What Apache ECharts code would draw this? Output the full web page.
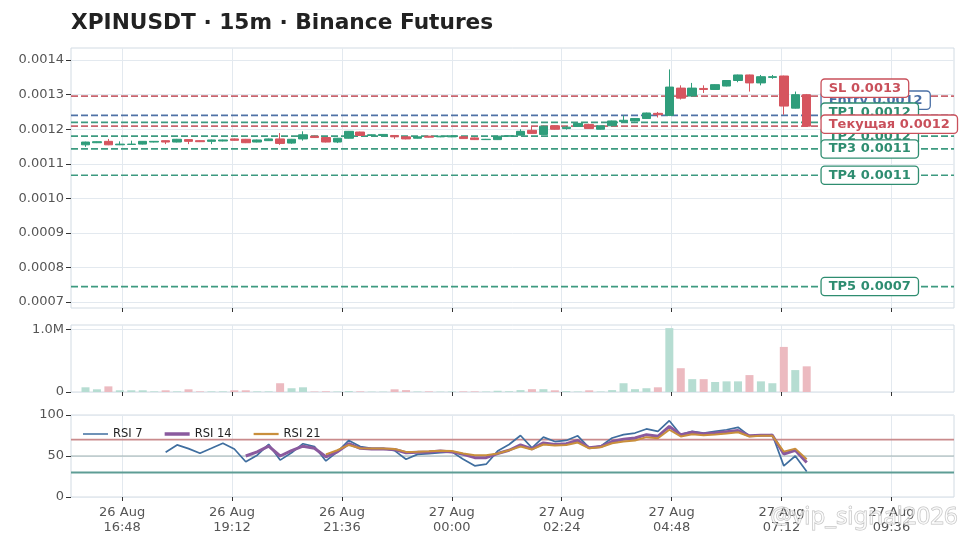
<!DOCTYPE html>
<html><head><meta charset="utf-8">
<script src="https://cdn.jsdelivr.net/npm/echarts@6/dist/echarts.min.js"></script>
<style>html,body{margin:0;padding:0;background:#fff}#c{width:971px;height:548px}</style>
</head><body><div id="c"></div>
<script>
// ---------- data ----------
const candleTimes = [
 '26 16:00','26 16:15','26 16:30','26 16:45','26 17:00','26 17:15','26 17:30','26 17:45',
 '26 18:00','26 18:15','26 18:30','26 18:45','26 19:00','26 19:15','26 19:30','26 19:45',
 '26 20:00','26 20:15','26 20:30','26 20:45','26 21:00','26 21:15','26 21:30','26 21:45',
 '26 22:00','26 22:15','26 22:30','26 22:45','26 23:00','26 23:15','26 23:30','26 23:45',
 '27 00:00','27 00:15','27 00:30','27 00:45','27 01:00','27 01:15','27 01:30','27 01:45',
 '27 02:00','27 02:15','27 02:30','27 02:45','27 03:00','27 03:15','27 03:30','27 03:45',
 '27 04:00','27 04:15','27 04:30','27 04:45','27 05:00','27 05:15','27 05:30','27 05:45',
 '27 06:00','27 06:15','27 06:30','27 06:45','27 07:00','27 07:15','27 07:30','27 07:45'];
const opens = [
 0.001155,0.001161,0.001165,0.001155,0.001156,0.001157,0.001163,0.001167,
 0.001163,0.001170,0.001167,0.001165,0.001166,0.001172,0.001171,0.001163,
 0.001167,0.001172,0.001160,0.001172,0.001180,0.001176,0.001163,0.001174,
 0.001192,0.001182,0.001182,0.001182,0.001178,0.001174,0.001180,0.001178,
 0.001178,0.001178,0.001175,0.001170,0.001170,0.001180,0.001183,0.001197,
 0.001185,0.001210,0.001202,0.001208,0.001214,0.001200,0.001210,0.001222,
 0.001224,0.001231,0.001246,0.001240,0.001319,0.001296,0.001318,0.001315,
 0.001325,0.001341,0.001357,0.001334,0.001350,0.001354,0.001261,0.001300];
const closes = [
 0.001163,0.001164,0.001155,0.001157,0.001157,0.001165,0.001165,0.001163,
 0.001171,0.001165,0.001164,0.001169,0.001169,0.001168,0.001161,0.001169,
 0.001172,0.001159,0.001171,0.001184,0.001176,0.001163,0.001174,0.001194,
 0.001182,0.001184,0.001185,0.001178,0.001172,0.001178,0.001177,0.001180,
 0.001181,0.001173,0.001170,0.001171,0.001180,0.001181,0.001194,0.001188,
 0.001209,0.001200,0.001206,0.001217,0.001202,0.001210,0.001224,0.001226,
 0.001231,0.001247,0.001242,0.001322,0.001290,0.001319,0.001315,0.001329,
 0.001341,0.001357,0.001334,0.001352,0.001352,0.001267,0.001300,0.001209];
const lows = [
 0.001149,0.001160,0.001154,0.001154,0.001155,0.001156,0.001162,0.001157,
 0.001162,0.001157,0.001163,0.001157,0.001165,0.001167,0.001160,0.001162,
 0.001166,0.001155,0.001158,0.001167,0.001175,0.001162,0.001160,0.001173,
 0.001181,0.001181,0.001181,0.001172,0.001171,0.001173,0.001176,0.001177,
 0.001177,0.001172,0.001169,0.001169,0.001169,0.001179,0.001182,0.001187,
 0.001184,0.001199,0.001199,0.001207,0.001201,0.001199,0.001209,0.001221,
 0.001223,0.001230,0.001234,0.001238,0.001286,0.001295,0.001305,0.001314,
 0.001324,0.001336,0.001309,0.001327,0.001346,0.001242,0.001260,0.001208];
const highs = [
 0.001164,0.001165,0.001172,0.001165,0.001167,0.001166,0.001166,0.001168,
 0.001172,0.001171,0.001168,0.001170,0.001170,0.001173,0.001172,0.001170,
 0.001173,0.001189,0.001172,0.001194,0.001182,0.001177,0.001175,0.001195,
 0.001193,0.001185,0.001186,0.001183,0.001179,0.001179,0.001181,0.001181,
 0.001182,0.001179,0.001176,0.001172,0.001181,0.001182,0.001200,0.001209,
 0.001210,0.001211,0.001209,0.001218,0.001216,0.001211,0.001225,0.001240,
 0.001232,0.001248,0.001250,0.001373,0.001327,0.001334,0.001327,0.001330,
 0.001342,0.001358,0.001358,0.001357,0.001357,0.001355,0.001309,0.001302];
const volumes = [
 75000,43000,90000,27000,27000,27000,10000,27000,
 10000,43000,10000,10000,10000,27000,27000,10000,
 10000,140000,60000,75000,8000,12000,8000,15000,
 10000,6000,6000,43000,30000,8000,10000,6000,
 8000,10000,10000,8000,20000,12000,30000,45000,
 45000,27000,15000,8000,27000,8000,30000,140000,
 45000,60000,75000,1020000,380000,205000,205000,160000,
 170000,170000,270000,170000,140000,720000,350000,410000];
const rsi7 = [
 null,null,null,null,null,null,null,54.5,
 63.5,59,53.3,59.4,65.6,58.6,43,51,
 64.3,45,54,65,61.5,44,55,69,
 61.5,59.4,59.4,56.6,46,52,53,54,
 55,46,38,40,56,64,75,60,
 73,67.6,69,74.6,60,62,72,76,
 78,83,80,93,76,80,78,80,
 82,85,74.6,75,76,38,50,31];
const rsi14 = [
 null,null,null,null,null,null,null,null,
 null,null,null,null,null,null,50,55,
 62,50,56.6,62,59.4,49,55,65,
 59.4,58.5,58.5,58,54,54.5,55,56,
 55,52,48,48,53,57,63.5,58.6,
 66,64,65,69,60,61.5,67.6,70.5,
 72,76,74,86,76,79,77,78,
 79.5,81,74.6,75.4,75.4,52.5,57,42];
const rsi21 = [
 null,null,null,null,null,null,null,null,
 null,null,null,null,null,null,null,null,
 null,null,null,null,null,52,57,63.5,
 59.4,59,59,58.5,55,55.3,55.7,56.5,
 56,53,51,50.8,53,57,61.5,58,
 64,62.7,63.5,66.4,59.4,60.7,65.6,67.6,
 69,73,71.7,82,73.8,76.6,75.4,76.2,
 77.5,79,73.8,74.6,74.6,55.3,59,46];
const levelNames  = ['Entry','SL','TP1','TP2','TP3','TP4','TP5','Текущая'];
const levelKinds  = ['entry','sl','tp','tp','tp','tp','tp','cur'];
const levelPrices = [0.00124,0.001296,0.00122,0.00118,0.001143,0.001067,0.000745,0.001209];
const xTickTimes  = ['26 16:48','26 19:12','26 21:36','27 00:00','27 02:24','27 04:48','27 07:12','27 09:36'];
const xTickLabels = ['26 Aug\n16:48','26 Aug\n19:12','26 Aug\n21:36','27 Aug\n00:00','27 Aug\n02:24','27 Aug\n04:48','27 Aug\n07:12','27 Aug\n09:36'];
const priceTicks  = [0.0007,0.0008,0.0009,0.0010,0.0011,0.0012,0.0013,0.0014];
const volumeTicks = [0,1000000];
const rsiLevels   = [70,50,30];

// ---------- styles ----------
const FONT = 'DejaVu Sans';
const GREEN = '#2f9d7b', RED = '#d6555f';
const VOL_G = '#b6ddd2', VOL_R = '#ecbac0';
const KIND_COLOR = {entry:'#4a6fa5', sl:'#c9505b', cur:'#c9505b', tp:'#2e8d70'};
const LINE_COLOR = {entry:'#4f72a6', sl:'#c8656f', cur:'#c8656f', tp:'#3d9a80'};
const RSI_GUIDE = [{color:'#c98a8c',width:1.6},{color:'#9db2b2',width:1.2},{color:'#5e9d95',width:2}];

function toMin(s){const p=s.split(' ');const hm=p[1].split(':');return (Number(p[0])-26)*1440+Number(hm[0])*60+Number(hm[1]);}
const tMin = candleTimes.map(toMin);
const xTickVals = xTickTimes.map(toMin);
const X_MIN = 941, X_MAX = 2098;
const P_MIN = 0.000683, P_MAX = 0.001435;
const G = [
  {left:71,right:17,top:48,height:260},
  {left:71,right:17,top:325,height:67},
  {left:71,right:17,top:415,height:82}
];

// label spreading (pixel space) to avoid overlap
function py(p){return G[0].top + (P_MAX-p)/(P_MAX-P_MIN)*G[0].height;}
const order = levelPrices.map((p,i)=>i).sort((a,b)=>py(levelPrices[b])-py(levelPrices[a]));
const disp = {}; let prev = Infinity;
order.forEach(i=>{const y=Math.min(py(levelPrices[i]), prev-12); disp[i]=y; prev=y;});
const labelX = tMin[tMin.length-1] + 19;

const markPointData = levelPrices.map((p,i)=>({
  coord:[labelX,p],
  label:{
    show:true, position:'right', distance:0, offset:[0, disp[i]-py(p)],
    formatter: levelNames[i]+' '+p.toFixed(4),
    color:KIND_COLOR[levelKinds[i]], fontWeight:'bold', fontSize:13, fontFamily:FONT, lineHeight:14,
    backgroundColor:'#ffffff', borderColor:KIND_COLOR[levelKinds[i]], borderWidth:1.3, borderRadius:3,
    padding:[2,7,1,7]
  }
}));

function xAxis(k){
  return {
    type:'value', gridIndex:k, min:X_MIN, max:X_MAX,
    axisLine:{show:false},
    axisTick:{show:true,length:4,lineStyle:{color:'#333'},customValues:xTickVals},
    axisLabel:{show:k===2,customValues:xTickVals,color:'#555',fontSize:13,fontFamily:FONT,lineHeight:15,margin:8,
      formatter:v=>{const j=xTickVals.indexOf(v);return j>=0?xTickLabels[j]:'';}},
    splitLine:{show:true,lineStyle:{color:'#e3e9ef',width:1}}
  };
}
function yBase(k){
  return {
    type:'value', gridIndex:k, axisLine:{show:false},
    axisTick:{show:true,length:5,lineStyle:{color:'#333'}},
    axisLabel:{color:'#555',fontSize:13,fontFamily:FONT,margin:7},
    splitLine:{show:true,lineStyle:{color:'#e3e9ef',width:1}}
  };
}
const yPrice = yBase(0);
Object.assign(yPrice,{min:P_MIN,max:P_MAX});
yPrice.axisTick.customValues = priceTicks;
yPrice.axisLabel.customValues = priceTicks;
yPrice.axisLabel.formatter = v=>v.toFixed(4);
const yVol = yBase(1);
Object.assign(yVol,{min:0,max:1070000});
yVol.axisTick.customValues = volumeTicks;
yVol.axisLabel.customValues = volumeTicks;
yVol.axisLabel.formatter = v=> v===0 ? '0' : (v/1e6).toFixed(1)+'M';
const yRsi = yBase(2);
Object.assign(yRsi,{min:0,max:100,interval:50});

const levelSeries = levelPrices.map((p,i)=>({
  type:'line', name:'lvl'+i, xAxisIndex:0, yAxisIndex:0, z:1, silent:true, showSymbol:false,
  lineStyle:{color:LINE_COLOR[levelKinds[i]],type:[7,3],width:1.7},
  data:[[X_MIN,p],[X_MAX,p]]
}));
const rsiGuideSeries = rsiLevels.map((v,j)=>({
  type:'line', name:'guide'+j, xAxisIndex:2, yAxisIndex:2, z:1, silent:true, showSymbol:false,
  lineStyle:{color:RSI_GUIDE[j].color,width:RSI_GUIDE[j].width},
  data:[[X_MIN,v],[X_MAX,v]]
}));

const chart = echarts.init(document.getElementById('c'), null, {renderer:'canvas'});
chart.setOption({
  animation:false,
  backgroundColor:'#ffffff',
  textStyle:{fontFamily:FONT},
  title:{text:'XPINUSDT · 15m · Binance Futures',left:66,top:7,
    textStyle:{fontFamily:FONT,fontWeight:'bold',fontSize:21.7,color:'#222'}},
  legend:{
    left:78, top:423, itemWidth:25, itemHeight:14, itemGap:22,
    textStyle:{color:'#222',fontSize:11.5,fontFamily:FONT},
    data:[
      {name:'RSI 7', icon:'path://M0,0h50v3h-50z'},
      {name:'RSI 14', icon:'path://M0,0h50v7h-50z'},
      {name:'RSI 21', icon:'path://M0,0h50v4.5h-50z'}
    ]
  },
  grid:G.map(g=>Object.assign({show:true,borderColor:'#d2dbe3',borderWidth:1,backgroundColor:'transparent'},g)),
  xAxis:[xAxis(0),xAxis(1),xAxis(2)],
  yAxis:[yPrice,yVol,yRsi],
  graphic:[{type:'text',left:770,top:505,z:100,silent:true,
    style:{text:'@vip_signal2026',font:'24px "Noto Sans"',fill:'rgba(255,255,255,0.6)',stroke:'rgba(110,110,110,0.45)',lineWidth:1}}],
  series:levelSeries.concat(rsiGuideSeries).concat([
    {
      type:'candlestick', name:'price', xAxisIndex:0, yAxisIndex:0, z:3,
      barWidth:9,
      encode:{x:0,y:[1,2,3,4]},
      data:tMin.map((t,i)=>[t,opens[i],closes[i],lows[i],highs[i]]),
      itemStyle:{color:GREEN,color0:RED,borderColor:GREEN,borderColor0:RED,borderWidth:1},
      markPoint:{silent:true,z:10,symbol:'circle',symbolSize:1,itemStyle:{color:'rgba(0,0,0,0)'},animation:false,data:markPointData}
    },
    {
      type:'bar', name:'volume', xAxisIndex:1, yAxisIndex:1, barWidth:8,
      data:tMin.map((t,i)=>({value:[t,volumes[i]],itemStyle:{color:closes[i]>=opens[i]?VOL_G:VOL_R}}))
    },
    {
      type:'line', name:'RSI 7', xAxisIndex:2, yAxisIndex:2, showSymbol:false, z:3,
      color:'#3f6e9f', lineStyle:{color:'#3f6e9f',width:1.7},
      data:tMin.map((t,i)=>[t,rsi7[i]])
    },
    {
      type:'line', name:'RSI 14', xAxisIndex:2, yAxisIndex:2, showSymbol:false, z:4,
      color:'#8a5a9e', lineStyle:{color:'#8a5a9e',width:3},
      data:tMin.map((t,i)=>[t,rsi14[i]])
    },
    {
      type:'line', name:'RSI 21', xAxisIndex:2, yAxisIndex:2, showSymbol:false, z:5,
      color:'#c98f3c', lineStyle:{color:'#c98f3c',width:2},
      data:tMin.map((t,i)=>[t,rsi21[i]])
    }
  ])
});
</script>
</body></html>
